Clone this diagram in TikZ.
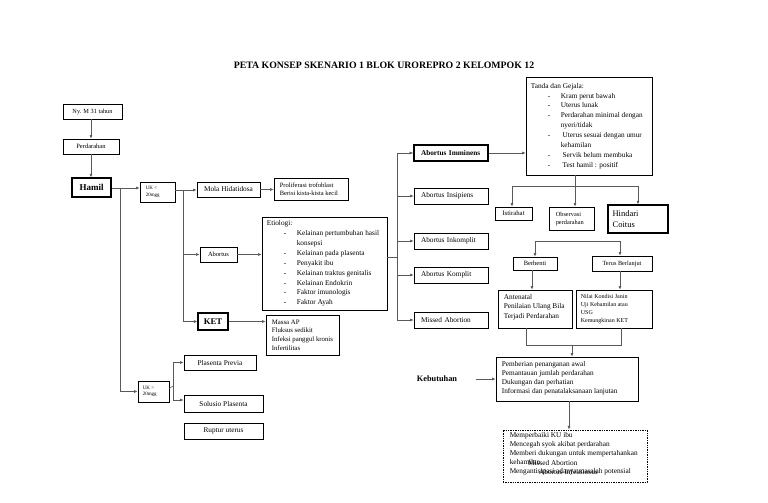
\documentclass[tikz,border=0pt]{standalone}
\usepackage{fontspec}
\setmainfont{Liberation Serif}
\usetikzlibrary{arrows.meta,calc}
\newcommand\itm{\makebox[30pt][l]{\hspace*{17pt}-}}
\newcommand\fz[2]{\fontsize{#1}{#2}\selectfont}
\begin{document}
\begin{tikzpicture}[x=1pt,y=-1pt,
 ln/.style={draw=black!65,line width=0.6pt},
 arr/.style={ln,-{Latex[length=3.6pt,width=3pt]}},
 bx/.style={draw=black,line width=0.75pt,inner sep=0pt,font=\fz{7.3}{9.9}},
 sz/.style 2 args={minimum width=#1pt,minimum height=#2pt},
 txt/.style={inner sep=0pt,align=left,anchor=west},
 thk/.style={line width=1.2pt},
 lt/.style={text width=60pt,align=left},
]
\fill[white] (0,0) rectangle (768,503);
\useasboundingbox (0,0) rectangle (768,503);

\node[font=\bfseries\fz{9.8}{12}] (title) at (384,65) {PETA KONSEP SKENARIO 1 BLOK UROREPRO 2 KELOMPOK 12};

% left column
\node[bx,sz={59}{15},font=\fz{6.3}{8}] (nym) at (92.5,111.5) {Ny. M 31 tahun};
\node[bx,sz={56}{15},font=\fz{6.5}{8}] (perd) at (91,146.5) {Perdarahan};
\node[bx,thk,sz={39}{19},font=\bfseries\fz{9}{10}] (hamil) at (91.5,187.5) {Hamil};
\node[bx,sz={35}{20}] (ukl) at (157.5,192) {};
\node[txt,font=\fz{5}{6.2}] (uklt) at ([xshift=6pt]ukl.west) {UK <\\20mgg};
\node[bx,sz={63}{15}] (mola) at (228.5,189.5) {Mola Hidatidosa};
\node[bx,sz={74}{22}] (prolif) at (311,189) {};
\node[txt,font=\fz{6.5}{8.3}] (prolift) at ([xshift=6pt]prolif.west) {Proliferasi trofoblast\\Berisi kista-kista kecil};
\node[bx,sz={37}{15},font=\fz{6.5}{8}] (abortus) at (218.5,254.5) {Abortus};
\node[bx,sz={125}{93}] (etio) at (324.5,263.5) {};
\node[txt,font=\fz{7.3}{9.9}] (etiot) at ([xshift=5pt]etio.west) {Etiologi:\\\itm Kelainan pertumbuhan hasil\\\hspace*{30pt}konsepsi\\\itm Kelainan pada plasenta\\\itm Penyakit ibu\\\itm Kelainan traktus genitalis\\\itm Kelainan Endokrin\\\itm Faktor imunologis\\\itm Faktor Ayah};
\node[bx,thk,sz={30}{17},font=\bfseries\fz{8.7}{10}] (ket) at (213,321.5) {KET};
\node[bx,sz={73}{40}] (massa) at (302.5,335) {};
\node[txt,font=\fz{6.8}{8.7}] (massat) at ([xshift=6pt]massa.west) {Massa AP\\Fluksus sedikit\\Infeksi panggul kronis\\Infertilitas};
\node[bx,sz={31}{21}] (ukg) at (153.5,391.5) {};
\node[txt,font=\fz{5}{6.2}] (ukgt) at ([xshift=5pt]ukg.west) {UK >\\20mgg};
\node[bx,sz={72}{15}] (prev) at (220,362.5) {Plasenta Previa};
\node[bx,sz={79}{17}] (solu) at (223.5,403.5) {Solusio Plasenta};
\node[bx,sz={79}{16}] (rupt) at (223.5,431) {Ruptur uterus};

% abortus types
\node[bx,lt,line width=1.6pt,sz={74}{16},font=\bfseries\fz{7.3}{9}] (imm) at (451,153) {Abortus Imminens};
\node[bx,lt,sz={74}{16}] (insi) at (451,196) {Abortus Insipiens};
\node[bx,lt,sz={74}{16}] (inko) at (451,241) {Abortus Inkomplit};
\node[bx,lt,sz={74}{16}] (komp) at (451,275) {Abortus Komplit};
\node[bx,lt,sz={74}{16}] (miss) at (451,320) {Missed Abortion};

% right column
\node[bx,sz={126}{98}] (tanda) at (589,126) {};
\node[txt,font=\fz{7.3}{9.9}] (tandat) at ([xshift=5pt]tanda.west) {Tanda dan Gejala:\\\itm Kram perut bawah\\\itm Uterus lunak\\\itm Perdarahan minimal dengan\\\hspace*{30pt}nyeri/tidak\\\itm\ Uterus sesuai dengan umur\\\hspace*{30pt}kehamilan\\\itm\ Servik belum membuka\\\itm\ Test hamil : positif};
\node[bx,sz={37}{13},font=\fz{6.8}{8}] (isti) at (513.5,213.5) {Istirahat};
\node[bx,sz={45}{23}] (obs) at (571.5,218.5) {};
\node[txt,font=\fz{6.3}{8}] (obst) at ([xshift=7pt]obs.west) {Observasi\\perdarahan};
\node[bx,thk,sz={60}{28}] (hind) at (638,219) {};
\node[txt,font=\fz{8.5}{10.5}] (hindt) at ([xshift=5pt]hind.west) {Hindari\\Coitus};
\node[bx,sz={44}{13},font=\fz{6.5}{8}] (berh) at (535,263.5) {Berhenti};
\node[bx,sz={60}{15},font=\fz{6.3}{8}] (terus) at (622,263.5) {Terus Berlanjut};
\node[bx,sz={74}{38}] (ante) at (535,309) {};
\node[txt,font=\fz{7.3}{9.5},yshift=2pt] (antet) at ([xshift=6pt]ante.west) {Antenatal\\Penilaian Ulang Bila\\Terjadi Perdarahan};
\node[bx,sz={76}{38}] (nilai) at (614,309) {};
\node[txt,font=\fz{6}{8.2}] (nilait) at ([xshift=5pt]nilai.west) {Nilai Kondisi Janin\\Uji Kehamilan atau\\USG\\Kemungkinan KET};
\node[bx,sz={142}{44}] (pemb) at (567,379) {};
\node[txt,font=\fz{7.3}{9},yshift=1pt] (pembt) at ([xshift=6pt]pemb.west) {Pemberian penanganan awal\\Pemantauan jumlah perdarahan\\Dukungan dan perhatian\\Informasi dan penatalaksanaan lanjutan};
\node[font=\bfseries\fz{8.3}{10}] (keb) at (437,379) {Kebutuhan};
\node[bx,dash pattern=on 1.4pt off 1pt,line width=0.9pt,sz={144}{52}] (dsh) at (575,456) {};
\node[txt,font=\fz{7.3}{9},yshift=2pt] (dsht) at ([xshift=7pt]dsh.west) {Memperbaiki KU ibu\\Mencegah syok akibat perdarahan\\Memberi dukungan untuk mempertahankan\\kehamilan\\Mengantisipasi adanya masalah potensial};
\node[inner sep=0pt,anchor=base west,font=\fz{7.3}{9}] (ov1) at (528,465) {Missed Abortion};
\node[inner sep=0pt,anchor=base west,font=\fz{7.3}{9}] (ov2) at (539,474) {Abortus Infeksiosus};

% connectors left
\draw[arr] (nym.south -| perd.north) -- (perd.north);
\draw[arr] (perd.south) -- (perd.south |- hamil.north);
\coordinate (h1) at (120,188);
\coordinate (h2) at (120,391.5);
\draw[arr] (hamil.east |- h1) -- (ukl.west |- h1);
\draw[arr] (h1) -- (h2) -- (ukg.west);
\coordinate (u1) at (183,190);
\draw[arr] (ukl.east |- u1) -- (mola.west |- u1);
\draw[ln] (u1) -- (u1 |- ket.west);
\draw[arr] (u1 |- abortus.west) -- (abortus.west);
\draw[arr] (u1 |- ket.west) -- (ket.west);
\draw[arr] (mola.east) -- (prolif.west |- mola.east);
\draw[arr] (abortus.east) -- (etio.west |- abortus.east);
\draw[arr] (ket.east) -- (massa.west |- ket.east);
\coordinate (g1) at (173,386);
\coordinate (g2) at (173,400);
\draw[ln] ([yshift=3pt]ukg.east) -- (g1);
\draw[ln] (g1 |- prev.west) -- (g2);
\draw[arr] (g1 |- prev.west) -- (prev.west);
\draw[arr] (g2) -- (g2 -| solu.west);

% middle
\coordinate (v1) at (397,257);
\draw[ln] (etio.east |- v1) -- (v1);
\draw[ln] (v1 |- imm.west) -- (v1 |- miss.west);
\foreach \n in {imm,insi,inko,komp,miss} \draw[arr] (v1 |- \n.west) -- (\n.west);
\draw[arr] (imm.east) -- (tanda.west |- imm.east);

% right
\coordinate (t1) at (575,186);
\coordinate (tl) at (512,186);
\coordinate (tr) at (638,186);
\draw[ln] (tanda.south -| t1) -- (t1);
\draw[ln] (tl) -- (tr);
\draw[arr] (tl) -- (tl |- isti.north);
\draw[arr] (t1) -- (t1 |- obs.north);
\draw[arr] (tr) -- (tr |- hind.north);
\coordinate (k1) at (535,241);
\coordinate (k2) at (620,241);
\draw[ln] (k1) -- (k2);
\draw[arr] (k1) -- (k1 |- berh.north);
\draw[arr] (k2) -- (k2 |- terus.north);
\coordinate (b1) at (532,280);
\coordinate (b2) at (620,280);
\draw[arr] (berh.south -| b1) -- (ante.north -| b1);
\draw[arr] (terus.south -| b2) -- (nilai.north -| b2);
\coordinate (m1) at (526,345);
\coordinate (m2) at (621,345);
\coordinate (m3) at (572,345);
\draw[ln] (ante.south -| m1) -- (m1) -- (m2) -- (nilai.south -| m2);
\draw[arr] (m3) -- (pemb.north -| m3);
\draw[arr] ([xshift=15pt]keb.east) -- (pemb.west);
\coordinate (p1) at (569,415);
\draw[arr] (pemb.south -| p1) -- (dsh.north -| p1);
\end{tikzpicture}
\end{document}
